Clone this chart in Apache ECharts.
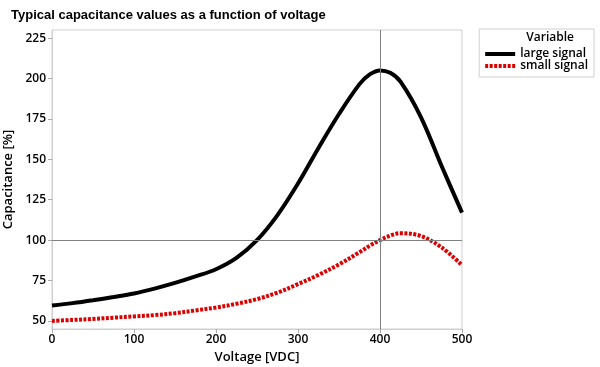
<!DOCTYPE html>
<html><head><meta charset="utf-8">
<script src="https://cdn.jsdelivr.net/npm/echarts@6/dist/echarts.min.js"></script>
<style>html,body{margin:0;padding:0;background:#fff}#c{width:600px;height:367px}</style>
</head><body><div id="c"></div>
<script>
const voltage = [0,25,50,75,100,125,150,175,200,225,250,275,300,325,350,375,387.5,400,412.5,425,450,475,500];
const largeSignal = [59.5,61,62.8,64.8,67,70,73.5,77.5,82,89,100,115.5,135,157,178,196.5,202.5,205,203.5,198,176,146,117];
const smallSignal = [50,50.6,51.2,52,52.8,53.6,54.8,56.5,58.3,60.6,63.5,67.5,72.8,78.5,85,92.5,96.5,100,102.8,104.3,102.5,95.5,84.5];
const yTicks = [50,75,100,125,150,175,200,225];
const seriesNames = ['large signal','small signal'];

const chart = echarts.init(document.getElementById('c'), null, {renderer:'canvas'});
const font = '"Open Sans", sans-serif';
chart.setOption({
  animation:false,
  title:{text:'Typical capacitance values as a function of voltage', left:6, top:4,
    textStyle:{fontFamily:'"Liberation Sans", Arial, sans-serif', fontSize:13, fontWeight:'bold', color:'#000'}},
  grid:{left:52, right:138, top:30, bottom:38, show:true, borderColor:'#cfcfcf', borderWidth:1, outerBoundsMode:'none', containLabel:false},
  legend:{right:6, top:29, orient:'vertical', align:'left', itemWidth:30, itemHeight:13, itemGap:0,
    padding:[19,6,5,4], borderColor:'#d0d0d0', borderWidth:1,
    itemStyle:{opacity:0}, lineStyle:{width:4},
    textStyle:{fontFamily:font, fontSize:12, color:'#000', fontWeight:600},
    data:seriesNames},
  graphic:[{type:'text', right:26, top:32, style:{text:'Variable', font:'600 12px "Open Sans", sans-serif', fill:'#000'}}],
  xAxis:{type:'value', min:0, max:500, interval:100, name:'Voltage [VDC]', nameLocation:'middle', nameGap:21,
    nameTextStyle:{fontFamily:font, fontSize:13, fontWeight:600, color:'#000'},
    axisLine:{show:true, lineStyle:{color:'#cfcfcf'}}, axisTick:{show:true, length:4, lineStyle:{color:'#aaa'}},
    axisLabel:{fontFamily:font, fontSize:12, fontWeight:600, color:'#000', margin:5},
    splitLine:{show:false}},
  yAxis:{type:'value', min:45, max:230, name:'Capacitance [%]', nameLocation:'middle', nameGap:36,
    nameTextStyle:{fontFamily:font, fontSize:13, fontWeight:600, color:'#000'},
    axisLine:{show:true, lineStyle:{color:'#cfcfcf'}},
    axisTick:{show:true, length:4, lineStyle:{color:'#aaa'}, customValues:yTicks},
    axisLabel:{fontFamily:font, fontSize:12, fontWeight:600, color:'#000', margin:6, customValues:yTicks},
    splitLine:{show:false}},
  series:[
    {name:seriesNames[0], type:'line', smooth:0.35, showSymbol:false, symbol:'none', data:voltage.map((v,i)=>[v,largeSignal[i]]),
      lineStyle:{color:'#000', width:4}, itemStyle:{color:'#000'}, z:3,
      markLine:{silent:true, symbol:'none', label:{show:false}, lineStyle:{color:'#808080', width:1, type:'solid'},
        data:[{xAxis:400},{yAxis:100}]}},
    {name:seriesNames[1], type:'line', smooth:0.35, showSymbol:false, symbol:'none', data:voltage.map((v,i)=>[v,smallSignal[i]]),
      lineStyle:{color:'#dd0000', width:4, type:[3,1.5]}, itemStyle:{color:'#dd0000'}, z:4}
  ]
});
</script></body></html>
